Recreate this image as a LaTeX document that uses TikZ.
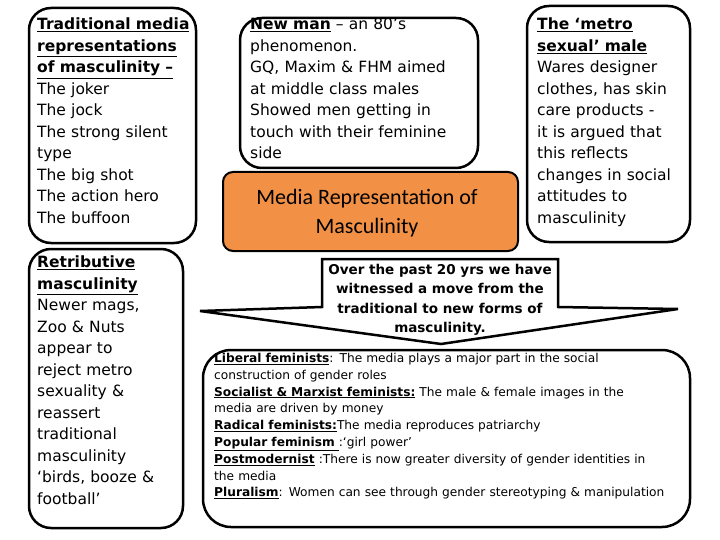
\documentclass[tikz,border=0pt]{standalone}
\usepackage{fontspec}
\setmainfont{DejaVu Sans}
\newfontfamily\carlitofont{Carlito}
\begin{document}
\begin{tikzpicture}[x=1pt,y=-1pt,
 box/.style={draw=black,line width=2.5pt,rounded corners=22pt,fill=white},
 txt/.style={anchor=north west,align=left,inner sep=0pt,font=\fontsize{15.5}{21.5}\selectfont},
 small/.style={anchor=north west,align=left,inner sep=0pt,font=\fontsize{12.2}{16.8}\selectfont}]
\useasboundingbox (0,0) rectangle (720,540);
\fill[white] (0,0) rectangle (720,540);
% boxes
\draw[box] (29,8) rectangle (196,243);
\draw[box] (29,249) rectangle (183,528);
\draw[box] (240,18) rectangle (478,168);
\draw[box] (527,6) rectangle (690,242);
\draw[box,fill={rgb,255:red,242;green,145;blue,70},rounded corners=10pt,line width=2pt] (223,172) rectangle (518,251);
\draw[box,rounded corners=28pt] (203,350) rectangle (690,527);
% callout arrow
\draw[line width=2.5pt,fill=white,line join=miter] (322,259) -- (558,259) -- (558,307) -- (678,309) -- (441,344) -- (200,311) -- (322,307) -- cycle;
% texts
\node[txt,text width=160pt] (t1) at (37,18) {\textbf{\underline{Traditional media}}\\\textbf{\underline{representations}}\\\textbf{\underline{of masculinity –}}\\The joker\\The jock\\The strong silent\\type\\The big shot\\The action hero\\The buffoon};
\node[txt,text width=150pt] (t2) at (37,256) {\textbf{\underline{Retributive}}\\\textbf{\underline{masculinity}}\\Newer mags,\\Zoo \& Nuts\\appear to\\reject metro\\sexuality \&\\reassert\\traditional\\masculinity\\‘birds, booze \&\\football’};
\node[txt,text width=230pt] (t3) at (250,18) {\textbf{\underline{New man} }– an 80’s\\phenomenon.\\GQ, Maxim \& FHM aimed\\at middle class males\\Showed men getting in\\touch with their feminine\\side};
\node[txt,text width=150pt] (t4) at (537,18) {\textbf{\underline{The ‘metro}}\\\textbf{\underline{sexual’ male}}\\Wares designer\\clothes, has skin\\care products -\\it is argued that\\this reflects\\changes in social\\attitudes to\\masculinity};
\node[align=center,font=\carlitofont\fontsize{22}{29}\selectfont] (t5) at (367,213) {Media Representation of\\Masculinity};
\node[align=center,font=\bfseries\fontsize{13.5}{19.5}\selectfont] (t6) at (440,300) {Over the past 20 yrs we have\\witnessed a move from the\\traditional to new forms of\\masculinity.};
\node[small,text width=470pt] (t7) at (214,353) {\textbf{\underline{Liberal feminists}}: The media plays a major part in the social\\construction of gender roles\\\textbf{\underline{Socialist \& Marxist feminists:}} The male \& female images in the\\media are driven by money\\\textbf{\underline{Radical feminists:}}The media reproduces patriarchy\\\textbf{\underline{Popular feminism }}:‘girl power’\\\textbf{\underline{Postmodernist}} :There is now greater diversity of gender identities in\\the media\\\textbf{\underline{Pluralism}}: Women can see through gender stereotyping \& manipulation};
\end{tikzpicture}
\end{document}
